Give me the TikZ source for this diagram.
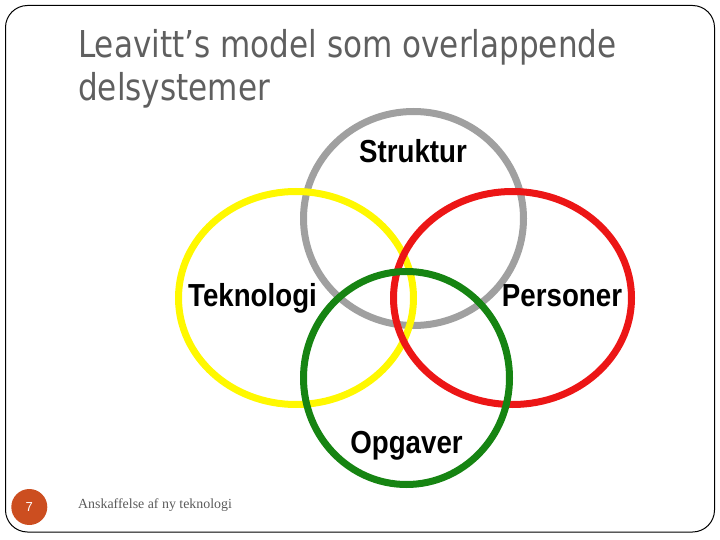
\documentclass[tikz,border=0pt]{standalone}
\usepackage{fontspec}
\setmainfont{Liberation Serif}
\newfontfamily\labfont{Liberation Sans}
\newfontfamily\ttlfont{DejaVu Sans}
\usetikzlibrary{shapes.geometric}
\definecolor{ttlgray}{RGB}{95,95,95}
\definecolor{ringgray}{RGB}{160,160,160}
\definecolor{ringyellow}{RGB}{255,248,0}
\definecolor{ringred}{RGB}{236,22,22}
\definecolor{ringgreen}{RGB}{22,132,18}
\definecolor{badge}{RGB}{204,78,32}
\definecolor{foot}{RGB}{90,90,90}
\tikzset{
  ring/.style={ellipse, inner sep=0pt, line width=7pt},
  lab/.style={anchor=base, inner sep=0pt, font=\labfont\bfseries\fontsize{27.7}{30}\selectfont},
  ttl/.style={anchor=base west, inner sep=0pt, text=ttlgray, font=\ttlfont\fontsize{37}{40}\selectfont},
}
\begin{document}
\begin{tikzpicture}[x=1pt,y=-1pt]
\useasboundingbox (0,0) rectangle (720,540);
\draw[line width=1pt, rounded corners=22pt] (5.5,5.5) rectangle (714.5,532);
\node[ttl] (t1) at (78,58) {\scalebox{0.84}[1]{Leavitt’s model som overlappende}};
\node[ttl] (t2) at (78,101) {\scalebox{0.84}[1]{delsystemer}};
\node[ring, draw=ringgray, minimum width=220pt, minimum height=214pt] (sg) at (413.5,218.5) {};
\node[ring, draw=ringyellow, minimum width=235pt, minimum height=213pt] (sy) at (296,298) {};
\node[ring, draw=ringred, minimum width=238pt, minimum height=213pt] (sr) at (512.5,298) {};
\node[ring, draw=ringgreen, minimum width=206pt, minimum height=213pt] (sgr) at (406.5,378) {};
\node[lab] (ls) at (413,163) {\scalebox{1}[1.15]{Struktur}};
\node[lab] (lt) at (252.5,306) {\scalebox{1}[1.15]{Teknologi}};
\node[lab] (lp) at (562,306) {\scalebox{1}[1.15]{Personer}};
\node[lab] (lo) at (406.5,453) {\scalebox{1}[1.15]{Opgaver}};
\node[circle, fill=badge, minimum size=36pt, inner sep=0pt, text=white, font=\labfont\fontsize{13}{15}\selectfont] (num) at (29.3,507) {7};
\node[anchor=base west, inner sep=0pt, text=foot, font=\fontsize{13.9}{16}\selectfont] (ft) at (78,508) {Anskaffelse af ny teknologi};
\end{tikzpicture}
\end{document}
